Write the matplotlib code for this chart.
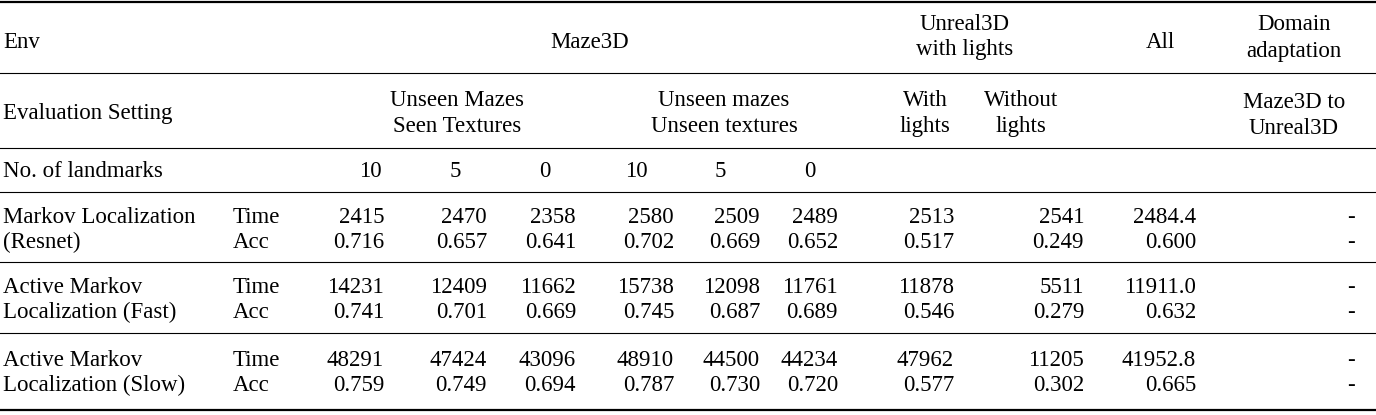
import matplotlib.pyplot as plt

plt.rcParams['font.family'] = ['Liberation Serif', 'DejaVu Serif']

methods = [["Markov Localization", "(Resnet)"],
           ["Active Markov", "Localization (Fast)"],
           ["Active Markov", "Localization (Slow)"]]
time_vals = [["2415", "2470", "2358", "2580", "2509", "2489", "2513", "2541", "2484.4", "-"],
             ["14231", "12409", "11662", "15738", "12098", "11761", "11878", "5511", "11911.0", "-"],
             ["48291", "47424", "43096", "48910", "44500", "44234", "47962", "11205", "41952.8", "-"]]
acc_vals = [["0.716", "0.657", "0.641", "0.702", "0.669", "0.652", "0.517", "0.249", "0.600", "-"],
            ["0.741", "0.701", "0.669", "0.745", "0.687", "0.689", "0.546", "0.279", "0.632", "-"],
            ["0.759", "0.749", "0.694", "0.787", "0.730", "0.720", "0.577", "0.302", "0.665", "-"]]
landmarks = ["10", "5", "0", "10", "5", "0"]

W, H = 1376, 415
fig = plt.figure(figsize=(W / 100, H / 100), dpi=100)
ax = fig.add_axes([0, 0, 1, 1])
ax.set_xlim(0, W)
ax.set_ylim(H, 0)
ax.axis('off')
fs = 16.5

def t(x, y, s, ha='left'):
    ax.text(x, y + 2, s, ha=ha, va='center', fontsize=fs)

# horizontal rules
ax.plot([0, W], [2, 2], color='black', lw=1.6)
for y in [73, 148, 192, 262, 333]:
    ax.plot([0, W], [y, y], color='black', lw=0.8)
ax.plot([0, W], [410, 410], color='black', lw=1.6)

# header rows
t(3, 40, "Env")
t(590, 40, "Maze3D", ha='center')
t(965, 23, "Unreal3D", ha='center')
t(965, 48, "with lights", ha='center')
t(1160, 40, "All", ha='center')
t(1294, 23, "Domain", ha='center')
t(1294, 50, "adaptation", ha='center')

t(3, 111, "Evaluation Setting")
t(457, 98, "Unseen Mazes", ha='center')
t(457, 124, "Seen Textures", ha='center')
t(724, 98, "Unseen mazes", ha='center')
t(724, 124, "Unseen textures", ha='center')
t(925, 98, "With", ha='center')
t(925, 124, "lights", ha='center')
t(1021, 98, "Without", ha='center')
t(1021, 124, "lights", ha='center')
t(1294, 100, "Maze3D to", ha='center')
t(1294, 126, "Unreal3D", ha='center')

t(3, 169, "No. of landmarks")
for x, s in zip([370, 455, 545, 636, 720, 810], landmarks):
    t(x, 169, s, ha='center')

col_right = [384, 487, 576, 674, 760, 838, 954, 1084, 1196, 1355]
for i, y0 in enumerate([215, 285, 358]):
    t(3, y0, methods[i][0])
    t(3, y0 + 25, methods[i][1])
    t(233, y0, "Time")
    t(233, y0 + 25, "Acc")
    for x, a, b in zip(col_right, time_vals[i], acc_vals[i]):
        t(x, y0, a, ha='right')
        t(x, y0 + 25, b, ha='right')

fig.savefig("out.png", dpi=100)
